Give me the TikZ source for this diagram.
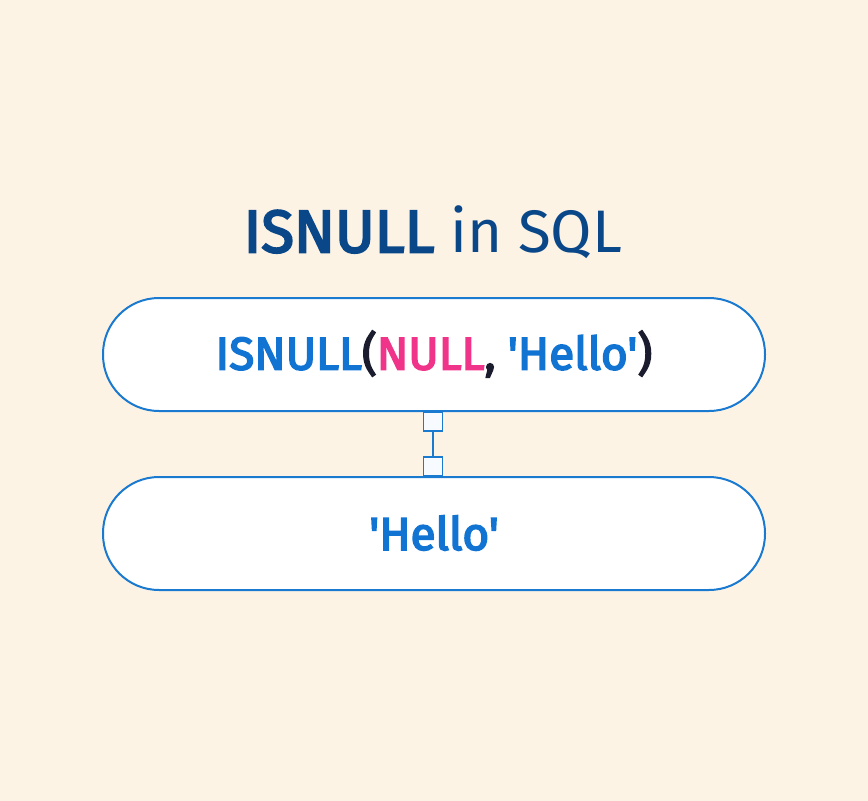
\documentclass[tikz,border=0pt]{standalone}
\usepackage{fontspec}
\setmainfont{Fira Sans}
\newfontfamily\semib[FakeBold=3.5]{Fira Sans}
\definecolor{bg}{HTML}{FDF3E5}
\definecolor{titleblue}{HTML}{0A4788}
\definecolor{boxblue}{HTML}{1A7AD0}
\definecolor{txtblue}{HTML}{1274D2}
\definecolor{pink}{HTML}{EF3489}
\definecolor{dark}{HTML}{1B1D2E}
\definecolor{sqfill}{HTML}{F7FAFE}
\newcommand{\sq}{\char"27}
\begin{document}
\begin{tikzpicture}[x=1pt,y=-1pt,
  pill/.style={draw=boxblue,line width=2pt,fill=white,rounded corners=56pt},
  sqbox/.style={draw=boxblue,line width=1.8pt,fill=sqfill,minimum size=19pt,inner sep=0pt},
  link/.style={draw=boxblue,line width=1.8pt}]
\fill[bg] (0,0) rectangle (868,801);
\useasboundingbox (0,0) rectangle (868,801);
\node[text=titleblue,font=\fontsize{60}{70}\selectfont] (title) at (433,232) {{\semib ISNULL} in SQL};
\draw[pill] (103,298) rectangle (765,411);
\draw[pill] (103,477) rectangle (765,590);
\node[font=\fontsize{46}{54}\selectfont\semib,text=txtblue] (t1) at (434,354) {ISNULL\textcolor{dark}{(}\textcolor{pink}{NULL}\textcolor{dark}{,} \sq Hello\sq\textcolor{dark}{)}};
\node[font=\fontsize{46}{54}\selectfont\semib,text=txtblue] (t2) at (434,533) {\sq Hello\sq};
\node[sqbox] (s1) at (433,421.5) {};
\node[sqbox] (s2) at (433,466.5) {};
\draw[link] (s1) -- (s2);
\end{tikzpicture}
\end{document}
